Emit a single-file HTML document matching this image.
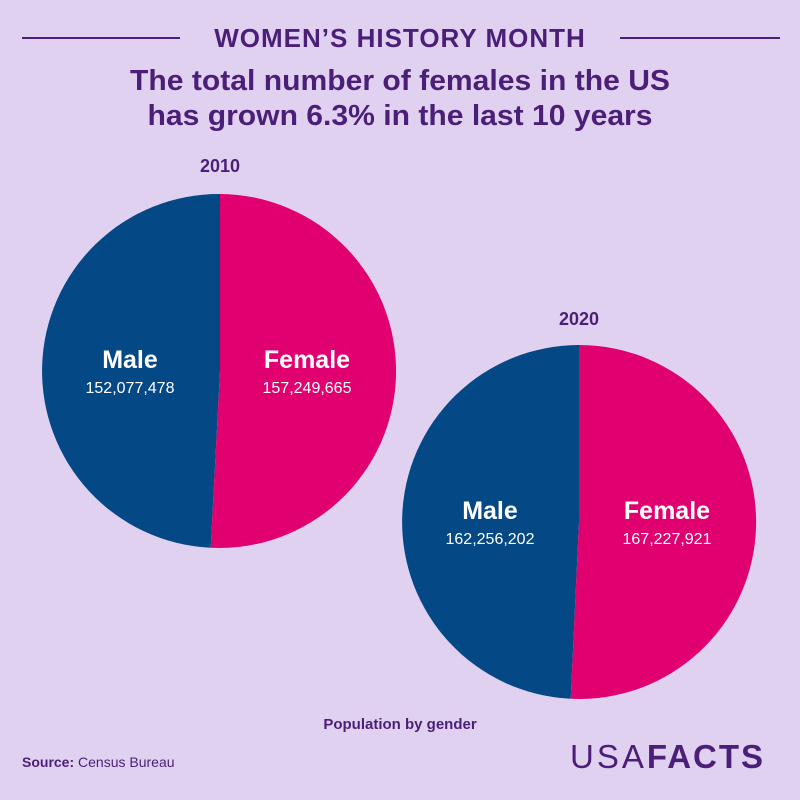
<!DOCTYPE html>
<html><head><meta charset="utf-8"><style>
html,body{margin:0;padding:0;background:#e3d5f2;}
svg{display:block;font-family:"Liberation Sans",sans-serif;}
</style></head><body>
<svg width="800" height="800" viewBox="0 0 800 800" xmlns="http://www.w3.org/2000/svg">
<rect width="800" height="800" fill="#e0d1f0"/>
<line x1="22" y1="38" x2="180" y2="38" stroke="#4b1f78" stroke-width="2"/>
<line x1="620" y1="38" x2="780" y2="38" stroke="#4b1f78" stroke-width="2"/>
<text x="400" y="47" text-anchor="middle" font-size="26" font-weight="bold" fill="#4b1f78" letter-spacing="1">WOMEN’S HISTORY MONTH</text>
<text x="400" y="90" text-anchor="middle" font-size="29" font-weight="bold" fill="#4b1f78" textLength="540" lengthAdjust="spacingAndGlyphs">The total number of females in the US</text>
<text x="400" y="125" text-anchor="middle" font-size="29" font-weight="bold" fill="#4b1f78" textLength="505" lengthAdjust="spacingAndGlyphs">has grown 6.3% in the last 10 years</text>
<text x="220" y="172" text-anchor="middle" font-size="18" font-weight="bold" fill="#4b1f78">2010</text>
<text x="579" y="325" text-anchor="middle" font-size="18" font-weight="bold" fill="#4b1f78">2020</text>
<path d="M220,371 L210.7,547.8 A177,177 0 0,1 220,194 Z" fill="#044886"/>
<path d="M220,371 L220,194 A177,177 0 1,1 210.7,547.8 Z" fill="#e00070"/>
<path d="M579,522 L570.7,698.8 A177,177 0 0,1 579,345 Z" fill="#044886"/>
<path d="M579,522 L579,345 A177,177 0 1,1 570.7,698.8 Z" fill="#e00070"/>
<g fill="#fff" text-anchor="middle">
<text x="130" y="368" font-size="25" font-weight="bold">Male</text>
<text x="130" y="393" font-size="16">152,077,478</text>
<text x="307" y="368" font-size="25" font-weight="bold">Female</text>
<text x="307" y="393" font-size="16">157,249,665</text>
<text x="490" y="519" font-size="25" font-weight="bold">Male</text>
<text x="490" y="544" font-size="16">162,256,202</text>
<text x="667" y="519" font-size="25" font-weight="bold">Female</text>
<text x="667" y="544" font-size="16">167,227,921</text>
</g>
<text x="400" y="729" text-anchor="middle" font-size="15" fill="#4b1f78" font-weight="bold">Population by gender</text>
<text x="22" y="767" font-size="14" fill="#4b1f78"><tspan font-weight="bold">Source:</tspan> Census Bureau</text>
<text x="570" y="768" font-size="33" fill="#4b1f78" letter-spacing="3">USA<tspan font-weight="bold" letter-spacing="2">FACTS</tspan></text>
</svg>
</body></html>
